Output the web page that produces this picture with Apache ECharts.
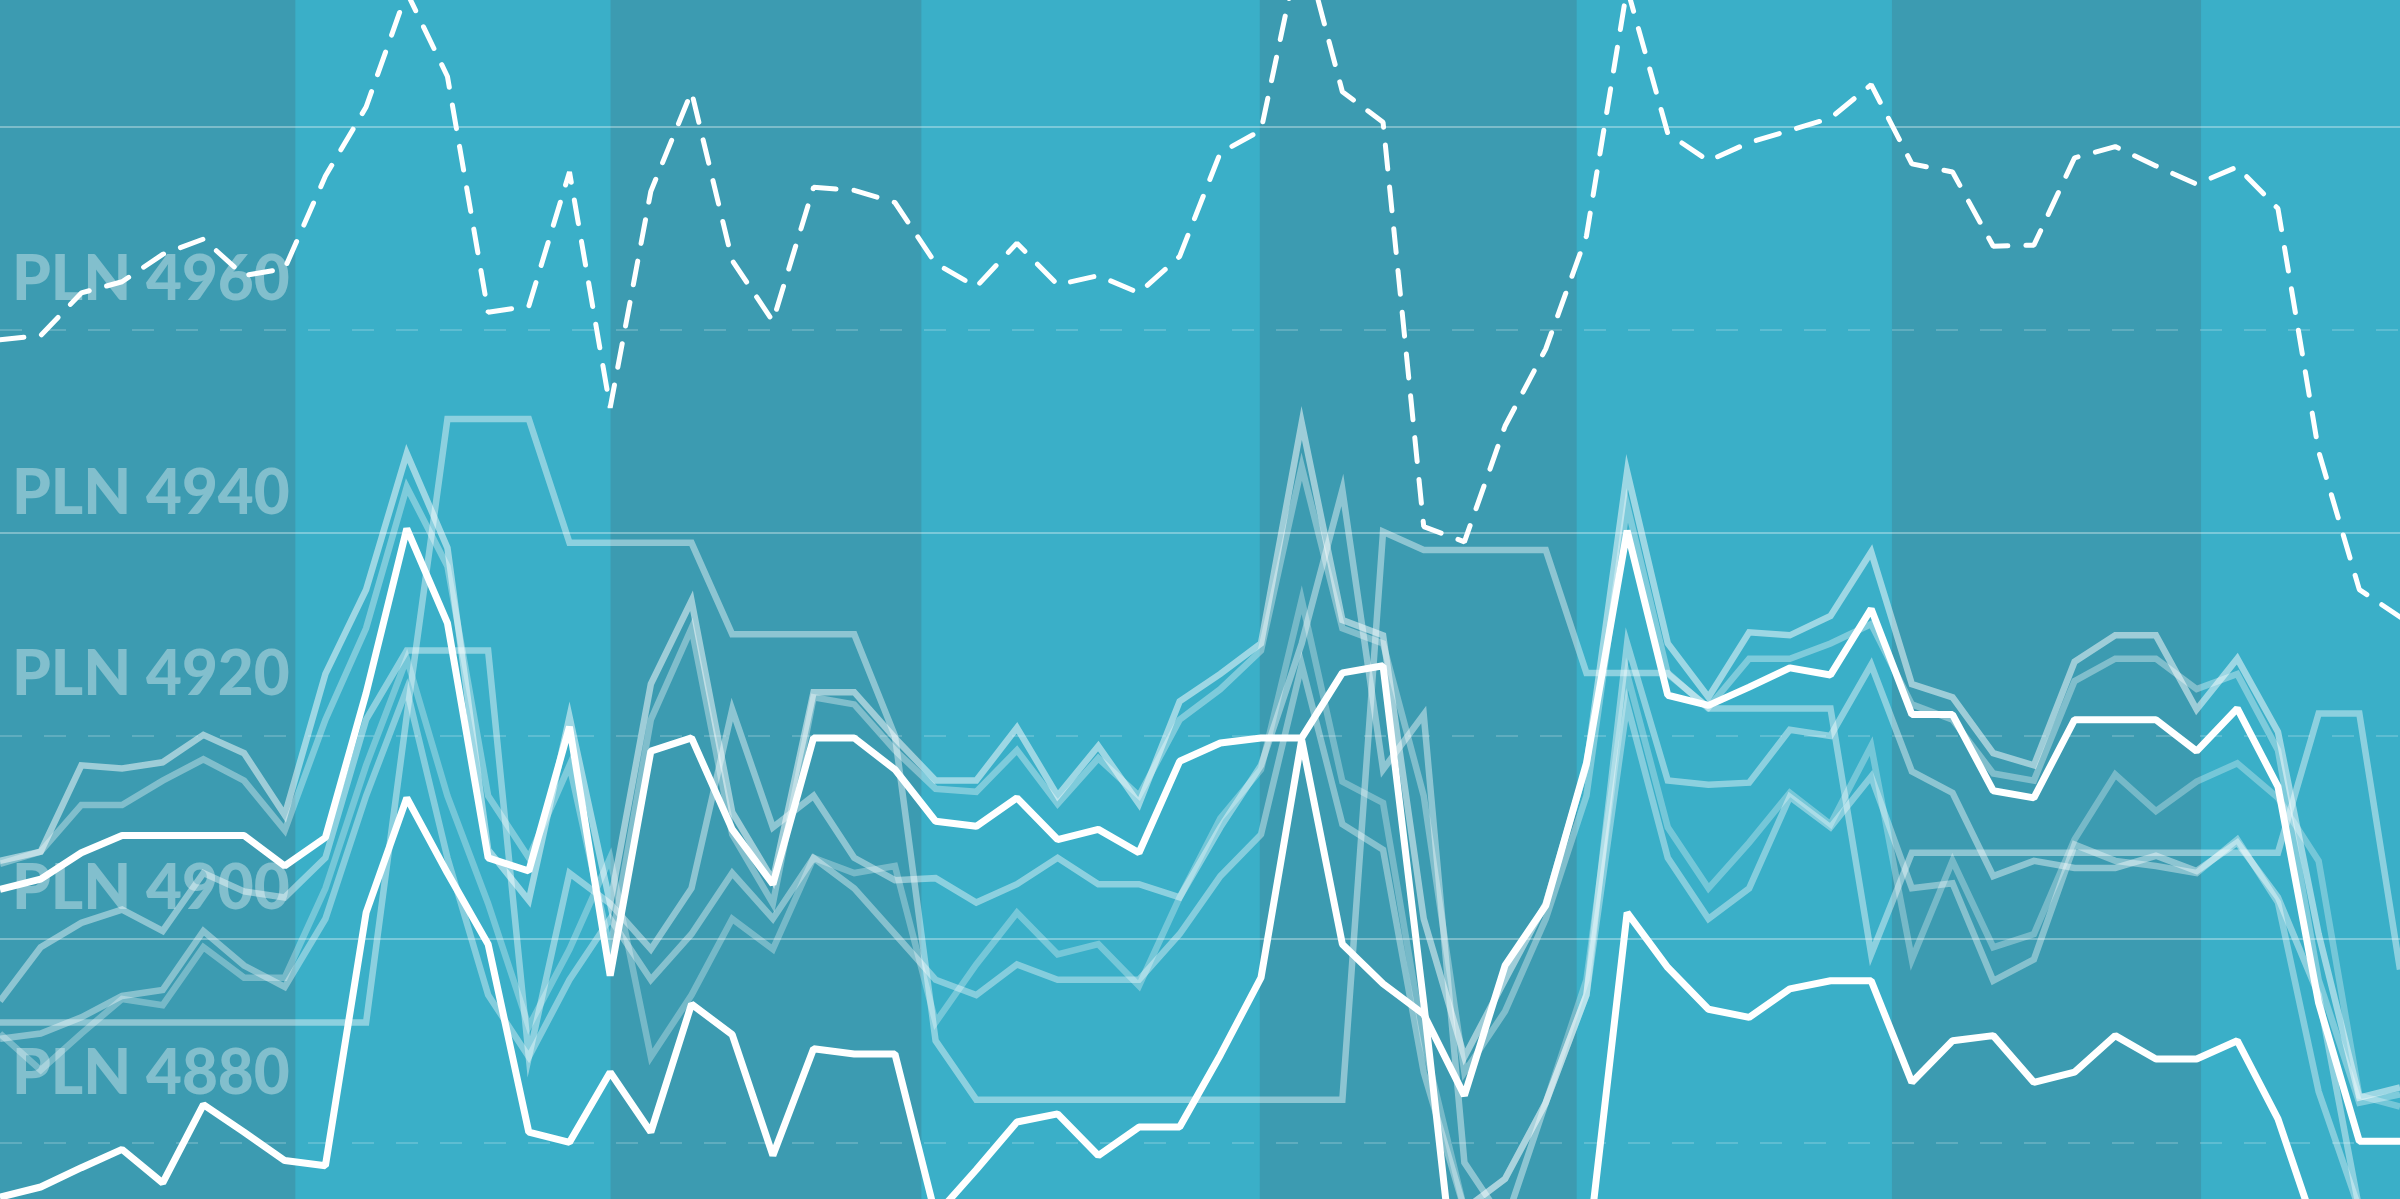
<!DOCTYPE html>
<html>
<head>
<meta charset="utf-8">
<script src="https://cdn.jsdelivr.net/npm/echarts/dist/echarts.min.js"></script>
<style>
html,body{margin:0;padding:0;background:#3aafc8;}
#chart{width:2400px;height:1199px;}
</style>
</head>
<body>
<div id="chart"></div>
<script>
const categories = ['1','2','3','4','5','6','7','8','9','10','11','12','13','14','15','16','17','18','19','20',
  '21','22','23','24','25','26','27','28','29','30','31','32','33','34','35','36','37','38','39','40',
  '41','42','43','44','45','46','47','48','49','50','51','52','53','54','55','56','57','58','59','60'];

const yTickValues = [4880, 4900, 4920, 4940, 4960];
const yTickLabels = ['PLN 4880', 'PLN 4900', 'PLN 4920', 'PLN 4940', 'PLN 4960'];

// shaded column bands, in category-index units
const bandStarts = [0, 15.01, 30.97, 46.51];
const bandEnds = [7.26, 22.65, 38.76, 54.11];

const dashedSeries = [4959.0,4959.4,4963.6,4964.7,4967.4,4968.9,4965.3,4966.0,4975.1,4981.9,
  4993.2,4984.9,4961.7,4962.3,4975.5,4952.3,4973.6,4983.4,4966.8,4960.8,
  4974.0,4973.7,4972.5,4966.5,4964.2,4968.5,4964.4,4965.3,4963.6,4967.2,
  4977.4,4979.6,4998.5,4983.4,4980.4,4940.6,4939.1,4950.5,4958.1,4969.2,
  4993.6,4979.3,4976.6,4978.4,4979.6,4980.8,4984.1,4976.3,4975.5,4968.2,
  4968.3,4976.9,4978.0,4976.1,4974.3,4976.0,4971.9,4948.0,4934.4,4931.7];

const brightA = [4904.9,4905.9,4908.5,4910.2,4910.2,4910.2,4910.2,4907.2,4910.0,4924.2,
  4940.4,4931.1,4908.0,4906.7,4920.9,4896.4,4918.5,4919.8,4910.8,4905.4,
  4919.8,4919.8,4916.7,4911.6,4911.1,4913.9,4909.8,4910.8,4908.5,4917.5,
  4919.3,4919.8,4919.8,4926.2,4926.9,4893.7,4858,4855,4858,4868,
  4902.6,4897.2,4893.1,4892.3,4895.1,4895.9,4895.9,4885.9,4890.0,4890.5,
  4885.9,4886.9,4890.5,4888.2,4888.2,4890.0,4882.3,4870.5,4862,4862];

const brightB = [4874.6,4875.6,4877.5,4879.3,4876.0,4883.7,4881.0,4878.2,4877.7,4902.6,
  4913.9,4906.5,4899.5,4881.0,4880.0,4886.9,4881.0,4893.6,4890.6,4878.7,
  4889.2,4888.7,4888.7,4872.8,4877.3,4882.0,4882.8,4878.7,4881.5,4881.5,
  4888.6,4896.2,4919.6,4899.5,4895.6,4892.6,4884.6,4897.4,4903.3,4917.3,
  4940.2,4924.0,4923.0,4924.8,4926.7,4926.0,4932.5,4922.1,4922.1,4914.6,
  4913.9,4921.6,4921.6,4921.6,4918.5,4922.7,4915.0,4893.7,4880.1,4880.1];

const stepLine = [4891.8,4891.8,4891.8,4891.8,4891.8,4891.8,4891.8,4891.8,4891.8,4891.8,
  4922.0,4951.2,4951.2,4951.2,4939.0,4939.0,4939.0,4939.0,4930.0,4930.0,
  4930.0,4930.0,4920.0,4890.0,4884.2,4884.2,4884.2,4884.2,4884.2,4884.2,
  4884.2,4884.2,4884.2,4884.2,4940.1,4938.3,4938.3,4938.3,4938.3,4926.2,
  4926.2,4926.2,4922.7,4922.7,4922.7,4922.7,4898.5,4908.5,4908.5,4908.5,
  4908.5,4908.5,4908.5,4908.5,4908.5,4908.5,4908.5,4922.2,4922.2,4897.0];

const fadedA = [4907.7,4908.6,4917.1,4916.8,4917.4,4920.1,4918.3,4912.2,4926.1,4934.4,
  4947.8,4938.5,4908.8,4903.8,4921.9,4903.5,4925.1,4933.3,4912.5,4905.8,
  4924.3,4924.3,4919.8,4915.6,4915.6,4920.8,4914.1,4919.0,4913.3,4923.4,
  4926.1,4929.1,4950.8,4931.4,4929.9,4902.0,4888.4,4896.0,4903.5,4917.1,
  4946.0,4929.1,4923.8,4930.2,4929.9,4931.8,4938.1,4925.1,4923.8,4918.3,
  4917.1,4927.3,4929.9,4929.9,4922.6,4927.6,4920.4,4900.5,4884.4,4885.4];

const fadedB = [4907.4,4908.6,4913.2,4913.2,4915.6,4917.7,4915.6,4910.7,4921.6,4930.6,
  4944.5,4936.7,4914.1,4908.0,4917.1,4899.0,4921.6,4930.6,4910.3,4903.5,
  4923.8,4923.1,4918.6,4914.8,4914.5,4918.6,4913.3,4917.8,4914.1,4921.6,
  4924.6,4928.4,4946.5,4930.6,4929.1,4914.1,4886.9,4892.9,4902.0,4914.1,
  4942.7,4926.1,4922.8,4927.6,4927.6,4929.1,4931.0,4923.1,4921.6,4916.3,
  4915.6,4925.4,4927.6,4927.6,4924.6,4926.1,4918.6,4896.0,4883.9,4884.7];

const fadedC = [4893.9,4899.2,4901.6,4902.9,4900.8,4906.5,4904.7,4904.1,4908.0,4921.6,
  4928.4,4928.4,4928.4,4888.4,4906.5,4903.5,4899.0,4905.0,4922.6,4911.0,
  4914.1,4908.0,4905.8,4906.0,4903.6,4905.4,4908.0,4905.4,4905.4,4904.1,
  4911.0,4917.1,4929.1,4944.2,4916.7,4922.1,4878.0,4872.0,4883.9,4894.5,
  4929.1,4915.6,4915.2,4915.4,4920.6,4920.0,4927.0,4916.5,4914.4,4906.2,
  4907.7,4907.0,4907.0,4908.2,4906.7,4909.5,4904.1,4894.5,4873.4,4873.4];

const fadedD = [4890.7,4887.1,4890.7,4894.1,4893.5,4899.2,4896.2,4896.2,4905.0,4917.1,
  4927.6,4914.1,4903.5,4891.4,4899.0,4908.0,4888.4,4894.5,4902.0,4899.0,
  4908.0,4906.5,4907.2,4891.8,4897.5,4902.6,4898.5,4899.5,4895.4,4904.1,
  4911.9,4916.7,4933.4,4915.5,4913.4,4889.9,4873.4,4876.4,4883.9,4896.0,
  4926.1,4911.0,4905.0,4909.5,4914.4,4911.3,4919.0,4898.0,4907.7,4899.2,
  4900.5,4909.8,4916.2,4912.6,4915.5,4917.3,4913.9,4907.7,4884.6,4883.5];

const fadedE = [4890.2,4890.7,4892.3,4894.4,4895.0,4900.8,4897.4,4895.3,4902.0,4914.1,
  4924.6,4908.0,4894.5,4888.4,4896.0,4902.0,4896.0,4900.5,4906.5,4902.0,
  4908.0,4905.0,4900.5,4896.0,4894.5,4897.5,4896.0,4896.0,4896.0,4900.5,
  4906.2,4910.3,4927.0,4911.3,4908.8,4886.9,4873.4,4876.4,4883.9,4894.5,
  4923.1,4908.0,4902.0,4905.0,4914.0,4911.0,4916.0,4905.0,4905.5,4895.9,
  4898.0,4909.3,4907.7,4907.2,4906.5,4909.8,4903.6,4885.0,4873.4,4873.4];

// vertical placement of each tick label above its grid line (line-box heights)
const labelBoxHeights = [136, 100, 122, 78, 100];

const chart = echarts.init(document.getElementById('chart'), null, {renderer: 'canvas'});

function fadedLine(name, data, opacity) {
  return {
    name: name, type: 'line', data: data, symbol: 'none', z: 3,
    lineStyle: {color: 'rgba(255,255,255,' + opacity + ')', width: 6.5, join: 'miter'}
  };
}

const labelRich = {};
labelBoxHeights.forEach(function (h, i) {
  labelRich['s' + i] = {
    lineHeight: h, fontSize: 62, fontFamily: 'Lato', fontWeight: 900,
    color: 'rgba(255,255,255,0.36)'
  };
});

const option = {
  animation: false,
  backgroundColor: '#3aafc8',
  grid: {left: 0, right: 0, top: -76.9, height: 1422.4, containLabel: false, outerBoundsMode: 'none'},
  xAxis: [
    {type: 'category', data: categories, boundaryGap: false, show: false},
    {type: 'value', min: 0, max: categories.length - 1, show: false}
  ],
  yAxis: [
    {
      type: 'value', min: 4860, max: 5000, interval: 40, z: 1.5,
      axisLine: {show: false}, axisTick: {show: false}, axisLabel: {show: false},
      splitLine: {show: true, lineStyle: {color: 'rgba(255,255,255,0.33)', width: 2}},
      minorTick: {show: false, splitNumber: 2},
      minorSplitLine: {show: true, lineStyle: {color: 'rgba(255,255,255,0.18)', width: 2, type: [22, 22]}}
    },
    {
      type: 'value', min: 4860, max: 5000, interval: 20, position: 'left', z: 1.5,
      axisLine: {show: false}, axisTick: {show: false}, splitLine: {show: false},
      axisLabel: {
        show: true, inside: true, margin: 12,
        color: 'rgba(255,255,255,0.36)', fontFamily: 'Lato', fontWeight: 900, fontSize: 62,
        lineHeight: 100, verticalAlign: 'bottom',
        rich: labelRich,
        formatter: function (v) {
          const i = yTickValues.indexOf(v);
          return i >= 0 ? '{s' + i + '|' + yTickLabels[i] + '}' : '';
        }
      }
    }
  ],
  series: [
    {
      name: 'bands', type: 'line', xAxisIndex: 1, yAxisIndex: 0, data: [], z: 1,
      markArea: {
        silent: true, z: 1,
        itemStyle: {color: '#3c9bb1'},
        data: bandStarts.map(function (s, i) { return [{xAxis: s}, {xAxis: bandEnds[i]}]; })
      }
    },
    fadedLine('stepLine', stepLine, 0.42),
    fadedLine('fadedA', fadedA, 0.5),
    fadedLine('fadedB', fadedB, 0.35),
    fadedLine('fadedC', fadedC, 0.42),
    fadedLine('fadedD', fadedD, 0.3),
    fadedLine('fadedE', fadedE, 0.38),
    {
      name: 'brightB', type: 'line', data: brightB, symbol: 'none', z: 4,
      lineStyle: {color: '#ffffff', width: 7}
    },
    {
      name: 'brightA', type: 'line', data: brightA, symbol: 'none', z: 4,
      lineStyle: {color: '#ffffff', width: 7}
    },
    {
      name: 'dashed', type: 'line', data: dashedSeries, symbol: 'none', z: 5,
      lineStyle: {color: '#ffffff', width: 5, type: [24, 18], cap: 'round'}
    }
  ]
};
chart.setOption(option);
</script>
</body>
</html>
